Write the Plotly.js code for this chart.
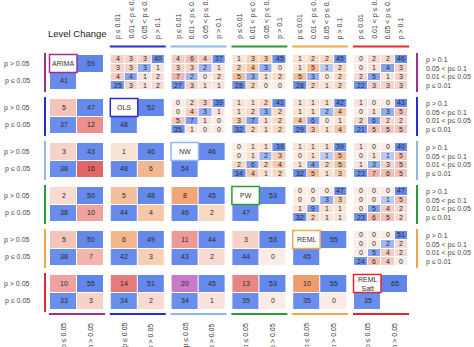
<!DOCTYPE html>
<html><head><meta charset="utf-8">
<script src="https://cdn.plot.ly/plotly-3.0.1.min.js"></script>
<style>html,body{margin:0;padding:0;background:#fff}#chart{width:474px;height:347px}</style>
</head><body><div id="chart"></div>
<script>
// ---------- labels ----------
const methods = ['ARIMA','OLS','NW','PW','REML','REML Satt'];
const methodLabels = ['ARIMA','OLS','NW','PW','REML','REML<br>Satt'];
const levelRowLabels = ['p > 0.05','p ≤ 0.05'];
const levelColLabels = ['p ≤ 0.05','p > 0.05'];
const slopeRowLabels = ['p > 0.1','0.05 < p≤ 0.1','0.01 < p≤ 0.05','p ≤ 0.01'];
const slopeColLabels = ['p ≤ 0.01','0.01 < p ≤ 0.05','0.05 < p ≤ 0.1','p > 0.1'];
const levelTitle = 'Level Change';

// ---------- diagonal (level change counts per method) ----------
const levelNotSig = [59,52,46,53,55,65];
const levelSig    = [41,48,54,47,45,35];

// ---------- level change: row method (p>0.05, p<=0.05) vs column method (p<=0.05, p>0.05) ----------
const lvl_OLS_ARIMA      = [[5,47],[37,12]];
const lvl_NW_ARIMA       = [[3,43],[38,16]];
const lvl_NW_OLS         = [[1,46],[48,6]];
const lvl_PW_ARIMA       = [[2,50],[38,10]];
const lvl_PW_OLS         = [[5,48],[44,4]];
const lvl_PW_NW          = [[8,45],[46,2]];
const lvl_REML_ARIMA     = [[5,50],[38,7]];
const lvl_REML_OLS       = [[6,49],[42,3]];
const lvl_REML_NW        = [[11,44],[43,2]];
const lvl_REML_PW        = [[3,53],[44,0]];
const lvl_REMLSatt_ARIMA = [[10,55],[33,3]];
const lvl_REMLSatt_OLS   = [[14,51],[34,2]];
const lvl_REMLSatt_NW    = [[20,45],[34,1]];
const lvl_REMLSatt_PW    = [[13,53],[35,0]];
const lvl_REMLSatt_REML  = [[10,55],[35,0]];

// ---------- slope change: row method (p>0.1 ... p<=0.01) vs column method (p<=0.01 ... p>0.1) ----------
const slope_ARIMA_OLS      = [[4,3,3,40],[3,3,3,1],[4,4,1,2],[25,3,1,2]];
const slope_ARIMA_NW       = [[4,6,4,37],[3,3,2,1],[7,2,0,2],[27,3,1,1]];
const slope_ARIMA_PW       = [[1,3,3,45],[2,4,3,0],[5,3,1,2],[28,2,0,0]];
const slope_ARIMA_REML     = [[1,2,2,45],[1,5,1,2],[5,3,0,2],[28,2,1,2]];
const slope_ARIMA_REMLSatt = [[0,2,2,46],[0,1,4,3],[2,5,1,3],[22,3,3,3]];
const slope_OLS_NW         = [[0,2,3,39],[0,4,3,1],[5,7,1,0],[35,1,0,0]];
const slope_OLS_PW         = [[1,1,2,41],[1,2,3,2],[3,7,1,2],[32,2,1,2]];
const slope_OLS_REML       = [[1,1,1,42],[1,1,2,4],[4,6,0,1],[29,3,1,4]];
const slope_OLS_REMLSatt   = [[1,0,0,43],[0,1,3,5],[2,6,2,2],[21,5,5,5]];
const slope_NW_PW          = [[0,1,1,39],[0,1,2,3],[2,6,2,4],[34,4,1,2]];
const slope_NW_REML        = [[1,1,1,39],[0,1,1,5],[1,4,2,5],[32,5,1,3]];
const slope_NW_REMLSatt    = [[1,0,0,40],[0,1,1,5],[1,3,3,5],[23,7,6,5]];
const slope_PW_REML        = [[0,0,0,47],[0,0,3,3],[1,9,1,1],[32,2,1,1]];
const slope_PW_REMLSatt    = [[0,0,0,47],[0,0,1,5],[0,5,4,2],[23,6,5,2]];
const slope_REML_REMLSatt  = [[0,0,0,51],[0,0,2,2],[0,5,4,2],[24,6,4,0]];

// lookup table built from the arrays above: [row][col]
const blocks = [
  [null, slope_ARIMA_OLS, slope_ARIMA_NW, slope_ARIMA_PW, slope_ARIMA_REML, slope_ARIMA_REMLSatt],
  [lvl_OLS_ARIMA, null, slope_OLS_NW, slope_OLS_PW, slope_OLS_REML, slope_OLS_REMLSatt],
  [lvl_NW_ARIMA, lvl_NW_OLS, null, slope_NW_PW, slope_NW_REML, slope_NW_REMLSatt],
  [lvl_PW_ARIMA, lvl_PW_OLS, lvl_PW_NW, null, slope_PW_REML, slope_PW_REMLSatt],
  [lvl_REML_ARIMA, lvl_REML_OLS, lvl_REML_NW, lvl_REML_PW, null, slope_REML_REMLSatt],
  [lvl_REMLSatt_ARIMA, lvl_REMLSatt_OLS, lvl_REMLSatt_NW, lvl_REMLSatt_PW, lvl_REMLSatt_REML, null]
];

// ---------- styling / geometry ----------
const methodColors = ['#a0308f','#2a2ad6','#8db8ea','#2e9a3a','#f5a54a','#e6262e'];
const FONT = 'Liberation Sans, Arial, Helvetica, sans-serif';
const X0 = 50, XSTEP = 60.8, BW = 54;
const Y0 = 55, YSTEP = 44, BH = 35;
const blueStops = [[0.2625,'#b9cbf3'],[0.275,'#a0b8f1'],[0.3,'#86a3f0'],[0.375,'#799aee'],[0.5625,'#6f92ee'],[1,'#5f85ea']];
const redScale = [[0,'#c67ac8'],[0.05,'#e06767'],[0.1,'#eb8f8f'],[0.125,'#efa2a0'],
  [0.175,'#f3bdb4'],[0.2125,'#f6d2c9'],[0.25,'#fbebe6']].concat(blueStops);
const orangeScale = [[0,'#ea8a55'],[0.125,'#ef9d6c'],[0.15,'#f0a676'],[0.175,'#f3b790'],
  [0.2125,'#f7cfb5'],[0.25,'#fbece3']].concat(blueStops);
// blocks drawn with the orange disagreement hue (row, col)
const orangeBlocks = ['2-1','3-1','3-2','4-1','5-4','0-3','0-4','1-3','1-4','2-3','2-4','3-4'];

function centers(start, size, n){ const c=[]; for(let k=0;k<n;k++) c.push(start + size*(k+0.5)/n); return c; }

const traces = [], shapes = [], annotations = [];
function ann(o){ annotations.push(Object.assign({xref:'x',yref:'y',showarrow:false,font:{family:FONT,size:7,color:'#333'}},o)); }

for(let i=0;i<6;i++){
  for(let j=0;j<6;j++){
    const bx = X0 + XSTEP*j, by = Y0 + YSTEP*i;
    let M, z, t, n;
    if(i===j){
      n = 2;
      z = [[null, levelNotSig[i]],[levelSig[i], null]];
      t = [['', String(levelNotSig[i])],[String(levelSig[i]), '']];
    } else {
      M = blocks[i][j]; n = M.length;
      z = M.map((row,r)=>row.map((v,c)=> (r+c===n-1) ? v : -v));
      t = M.map(row=>row.map(v=>String(v)));
    }
    traces.push({
      type:'heatmap', x: centers(bx,BW,n), y: centers(by,BH,n), z: z, text: t,
      texttemplate:'%{text}', textfont:{family:FONT,size:7,color:'#2a2a2a'},
      colorscale: orangeBlocks.includes(i+'-'+j) ? orangeScale : redScale,
      zmin:-20, zmax:60, showscale:false,
      xgap:1, ygap:1, hoverinfo:'skip'
    });
    if(i===j){
      shapes.push({type:'rect',xref:'x',yref:'y',x0:bx-0.5,x1:bx+BW/2,y0:by-0.5,y1:by+BH/2,
        fillcolor:'#ffffff',line:{color:methodColors[i],width:1.5},layer:'above'});
      ann({x:bx+BW/4, y:by+BH/4, text:methodLabels[i], font:{family:FONT,size:7,color:'#333'}});
    }
  }
}

// left labels and bars
for(let i=0;i<6;i++){
  const by = Y0 + YSTEP*i;
  const yc = centers(by,BH,2);
  levelRowLabels.forEach((lab,k)=>ann({x:32,y:yc[k],xanchor:'right',text:lab,font:{family:FONT,size:7,color:'#444'}}));
  shapes.push({type:'line',xref:'x',yref:'y',x0:45,x1:45,y0:by-2,y1:by+BH+2,line:{color:methodColors[i],width:2}});
}
// right labels and bars (slope rows)
for(let i=0;i<5;i++){
  const by = Y0 + YSTEP*i;
  const yc = centers(by,BH,4);
  slopeRowLabels.forEach((lab,k)=>ann({x:424,y:yc[k]+0.5,xanchor:'left',text:lab,font:{family:FONT,size:7,color:'#444'}}));
  shapes.push({type:'line',xref:'x',yref:'y',x0:417,x1:417,y0:by-2,y1:by+BH+2,line:{color:methodColors[i],width:2}});
}
// top labels and lines (slope columns)
for(let j=1;j<6;j++){
  const bx = X0 + XSTEP*j;
  const xc = centers(bx,BW,4);
  slopeColLabels.forEach((lab,k)=>ann({x:xc[k],y:41,yanchor:'bottom',textangle:-90,text:lab,font:{family:FONT,size:7,color:'#333'}}));
  shapes.push({type:'line',xref:'x',yref:'y',x0:bx-1,x1:bx+BW+1,y0:46.5,y1:46.5,line:{color:methodColors[j],width:2}});
}
// bottom labels and lines (level columns)
for(let j=0;j<6;j++){
  const bx = X0 + XSTEP*j;
  const xc = centers(bx,BW,2);
  levelColLabels.forEach((lab,k)=>ann({x:xc[k],y:321,yanchor:'top',textangle:-90,text:lab,font:{family:FONT,size:7,color:'#333'}}));
  shapes.push({type:'line',xref:'x',yref:'y',x0:bx-1,x1:bx+BW+1,y0:314,y1:314,line:{color:methodColors[j],width:2}});
}
ann({x:X0+BW/2, y:33, text:levelTitle, font:{family:FONT,size:9.5,color:'#222'}});

const layout = {
  width:474, height:347, margin:{l:0,r:0,t:0,b:0},
  paper_bgcolor:'#ffffff', plot_bgcolor:'#ffffff', showlegend:false,
  xaxis:{range:[0,474],visible:false,fixedrange:true},
  yaxis:{range:[347,0],visible:false,fixedrange:true},
  shapes:shapes, annotations:annotations
};
Plotly.newPlot('chart', traces, layout, {staticPlot:true, displayModeBar:false});
</script></body></html>
